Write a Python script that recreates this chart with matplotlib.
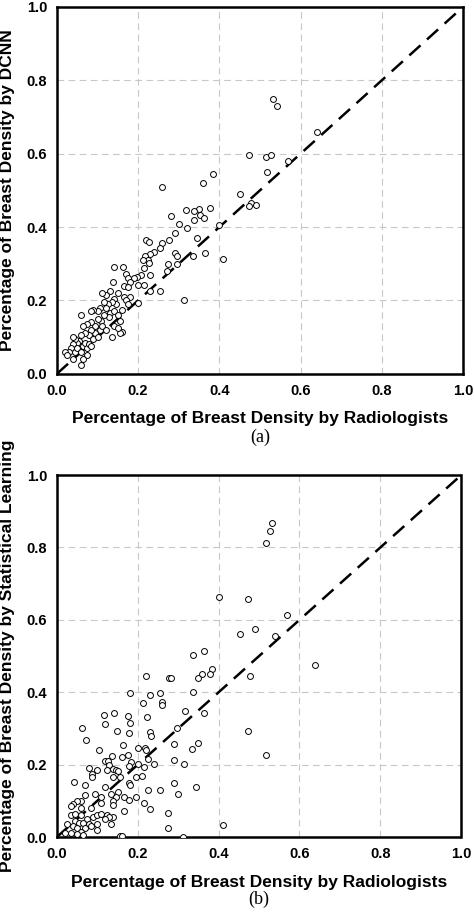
import matplotlib.pyplot as plt

# panel (a): radiologists vs DCNN
rad_a = [0.533, 0.542, 0.64, 0.473, 0.515, 0.528, 0.57, 0.518, 0.385, 0.36, 0.26, 0.452, 0.477, 0.473,
         0.49, 0.378, 0.35, 0.318, 0.337, 0.352, 0.363, 0.337, 0.282, 0.3, 0.32, 0.4, 0.29, 0.345, 0.277,
         0.219, 0.226, 0.259, 0.254, 0.24, 0.229, 0.218, 0.225, 0.213, 0.226, 0.291, 0.295, 0.296, 0.335,
         0.365, 0.41, 0.274, 0.272, 0.214, 0.206, 0.23, 0.198, 0.19, 0.2, 0.215, 0.14, 0.163, 0.17, 0.176,
         0.18, 0.165, 0.175, 0.139, 0.23, 0.255, 0.313, 0.2, 0.18, 0.165, 0.17, 0.175, 0.15, 0.13, 0.12,
         0.11, 0.14, 0.145, 0.135, 0.125, 0.115, 0.12, 0.105, 0.1, 0.09, 0.085, 0.13, 0.14, 0.15, 0.16,
         0.155, 0.14, 0.128, 0.115, 0.108, 0.1, 0.095, 0.085, 0.075, 0.065, 0.06, 0.105, 0.095, 0.085,
         0.08, 0.07, 0.06, 0.055, 0.05, 0.045, 0.04, 0.04, 0.035, 0.03, 0.02, 0.025, 0.04, 0.045, 0.05,
         0.06, 0.065, 0.07, 0.075, 0.08, 0.085, 0.075, 0.065, 0.06, 0.09, 0.1, 0.135, 0.16, 0.155, 0.15,
         0.11, 0.12]
dcnn = [0.75, 0.73, 0.66, 0.597, 0.59, 0.595, 0.58, 0.55, 0.545, 0.52, 0.51, 0.49, 0.465, 0.456,
        0.46, 0.452, 0.448, 0.446, 0.443, 0.432, 0.425, 0.42, 0.43, 0.408, 0.398, 0.405, 0.385, 0.37, 0.366,
        0.365, 0.36, 0.356, 0.342, 0.333, 0.327, 0.32, 0.31, 0.31, 0.302, 0.328, 0.322, 0.3, 0.32,
        0.33, 0.313, 0.3, 0.28, 0.288, 0.27, 0.27, 0.264, 0.26, 0.243, 0.242, 0.29, 0.29, 0.272, 0.26,
        0.25, 0.24, 0.237, 0.25, 0.225, 0.226, 0.2, 0.193, 0.21, 0.21, 0.2, 0.19, 0.22, 0.225, 0.215,
        0.22, 0.205, 0.19, 0.195, 0.19, 0.195, 0.18, 0.18, 0.17, 0.175, 0.17, 0.165, 0.17, 0.16, 0.175,
        0.145, 0.13, 0.155, 0.16, 0.145, 0.15, 0.13, 0.14, 0.135, 0.13, 0.16, 0.12, 0.11, 0.12,
        0.105, 0.11, 0.105, 0.09, 0.085, 0.095, 0.1, 0.08, 0.07, 0.06, 0.06, 0.05, 0.04, 0.06, 0.07,
        0.06, 0.075, 0.085, 0.07, 0.08, 0.075, 0.05, 0.04, 0.025, 0.095, 0.1, 0.1, 0.115, 0.11, 0.125,
        0.13, 0.12]

# panel (b): radiologists vs statistical learning
rad_b = [0.532, 0.526, 0.516, 0.402, 0.473, 0.568, 0.491, 0.452, 0.54, 0.365, 0.337, 0.383, 0.36, 0.378,
         0.35, 0.477, 0.639, 0.22, 0.278, 0.283, 0.337, 0.18, 0.255, 0.23, 0.26, 0.26, 0.213, 0.318, 0.365,
         0.142, 0.117, 0.175, 0.222, 0.18, 0.12, 0.062, 0.296, 0.149, 0.23, 0.178, 0.233, 0.072, 0.29,
         0.35, 0.164, 0.2, 0.218, 0.105, 0.335, 0.22, 0.175, 0.137, 0.473, 0.517, 0.16, 0.225, 0.29,
         0.118, 0.127, 0.183, 0.24, 0.315, 0.2, 0.13, 0.178, 0.215, 0.08, 0.138, 0.145, 0.152, 0.125,
         0.1, 0.088, 0.086, 0.138, 0.155, 0.195, 0.21, 0.042, 0.29, 0.178, 0.18, 0.07, 0.118, 0.345,
         0.255, 0.226, 0.15, 0.3, 0.095, 0.135, 0.07, 0.11, 0.145, 0.165, 0.195, 0.178, 0.06, 0.14,
         0.05, 0.108, 0.215, 0.138, 0.04, 0.035, 0.06, 0.085, 0.165, 0.23, 0.275, 0.035, 0.045, 0.06,
         0.075, 0.09, 0.1, 0.11, 0.125, 0.14, 0.13, 0.12, 0.045, 0.055, 0.065, 0.08, 0.1, 0.135, 0.025,
         0.04, 0.05, 0.07, 0.085, 0.1, 0.06, 0.035, 0.05, 0.065, 0.02, 0.155, 0.16, 0.313, 0.41, 0.275]
stat = [0.867, 0.845, 0.813, 0.663, 0.658, 0.613, 0.575, 0.56, 0.555, 0.513, 0.503, 0.463, 0.45, 0.45,
        0.44, 0.445, 0.476, 0.446, 0.44, 0.439, 0.4, 0.398, 0.397, 0.392, 0.373, 0.365, 0.37, 0.349, 0.343,
        0.342, 0.336, 0.335, 0.333, 0.316, 0.312, 0.301, 0.3, 0.293, 0.29, 0.287, 0.28, 0.268, 0.258,
        0.26, 0.254, 0.247, 0.245, 0.24, 0.243, 0.24, 0.228, 0.225, 0.292, 0.226, 0.22, 0.215, 0.213,
        0.21, 0.21, 0.207, 0.203, 0.202, 0.202, 0.2, 0.195, 0.193, 0.192, 0.188, 0.185, 0.182, 0.185,
        0.185, 0.175, 0.165, 0.165, 0.165, 0.165, 0.168, 0.153, 0.15, 0.15, 0.145, 0.144, 0.138, 0.138,
        0.13, 0.13, 0.125, 0.118, 0.12, 0.12, 0.115, 0.11, 0.11, 0.11, 0.11, 0.103, 0.1, 0.1,
        0.1, 0.093, 0.095, 0.088, 0.09, 0.085, 0.08, 0.08, 0.073, 0.077, 0.066, 0.06, 0.065, 0.06,
        0.05, 0.055, 0.06, 0.065, 0.062, 0.055, 0.055, 0.05, 0.045, 0.04, 0.04, 0.035, 0.035, 0.035, 0.035,
        0.03, 0.025, 0.025, 0.03, 0.02, 0.015, 0.01, 0.008, 0.005, 0.01, 0.002, 0.004, 0.001, 0.033, 0.025]

ticks = [0.0, 0.2, 0.4, 0.6, 0.8, 1.0]
tick_labels = ['0.0', '0.2', '0.4', '0.6', '0.8', '1.0']
xlabel = 'Percentage of Breast Density by Radiologists'

plt.rcParams['font.family'] = ['Liberation Sans', 'DejaVu Sans']

fig = plt.figure(figsize=(4.74, 9.14), dpi=100)
ax_a = fig.add_axes([0.120, 0.591, 0.857, 0.4015])
ax_b = fig.add_axes([0.120, 0.0842, 0.853, 0.396])

panels = [(ax_a, rad_a, dcnn, 'Percentage of Breast Density by DCNN', '(a)'),
          (ax_b, rad_b, stat, 'Percentage of Breast Density by Statistical Learning', '(b)')]

for ax, x, y, ylabel, caption in panels:
    ax.set_xlim(0, 1)
    ax.set_ylim(0, 1)
    ax.grid(True, color='#c8c8c8', linestyle=(0, (6, 4)), linewidth=0.8)
    ax.set_axisbelow(True)
    ax.plot([0, 1], [0, 1], color='black', linestyle=(0, (6, 3.5)), linewidth=1.8, zorder=2)
    ax.scatter(x, y, s=18, facecolors='white', edgecolors='black', linewidths=0.7, zorder=3)
    ax.set_xticks(ticks)
    ax.set_xticklabels(tick_labels)
    ax.set_yticks(ticks)
    ax.set_yticklabels(tick_labels)
    ax.tick_params(length=0, labelsize=10.5, pad=7)
    for lab in ax.get_xticklabels() + ax.get_yticklabels():
        lab.set_fontweight('bold')
    for side in ['left', 'right']:
        ax.spines[side].set_linewidth(1.8)
    for side in ['top', 'bottom']:
        ax.spines[side].set_linewidth(1.8)
        ax.spines[side].set_linestyle((0, (2, 1)))
    ax.set_xlabel(xlabel, fontsize=12.5, fontweight='bold', labelpad=10)
    ax.set_ylabel(ylabel, fontsize=12.5, fontweight='bold', labelpad=8)
    ax.text(0.5, -0.172, caption, transform=ax.transAxes, ha='center', va='center',
            fontsize=13, family='Liberation Serif')

fig.savefig('out.png', dpi=100)
